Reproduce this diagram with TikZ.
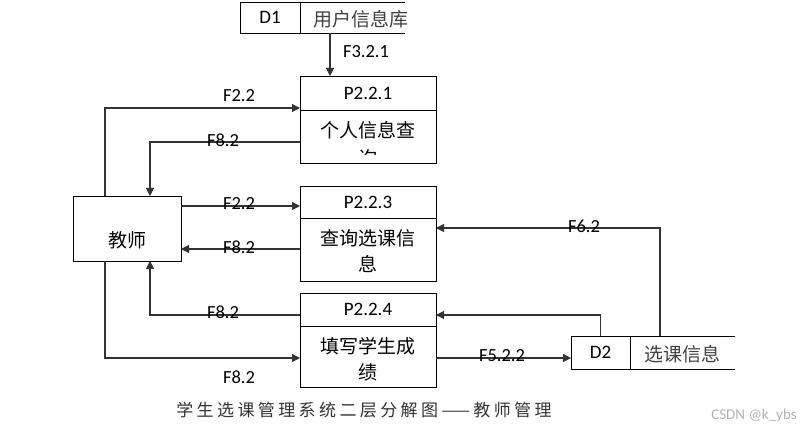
\documentclass[tikz,border=0pt]{standalone}
\usepackage{fontspec}
\setmainfont{Carlito}
\newfontfamily\cjk{Noto Sans CJK SC}
\newfontfamily\capfont[LetterSpace=20]{Noto Sans CJK SC}
\usetikzlibrary{arrows.meta}
\begin{document}
\begin{tikzpicture}[x=1pt,y=-1pt]
\tikzstyle{flow} = [-{Triangle[length=8pt,width=8pt]}, line width=1.1pt, black!80]
\tikzstyle{box} = [draw, line width=0.8pt, inner sep=0, outer sep=0]
\tikzstyle{txt} = [inner sep=0, font=\fontsize{19}{23}\selectfont]
\tikzstyle{lab} = [inner sep=0, font=\fontsize{18.5}{22}\selectfont]
\useasboundingbox (0,0) rectangle (811,430);
    % stores
    \node [box, minimum width=60, minimum height=31, txt] (d1) at (270,17.5) {D1};
    \draw [line width=0.8pt] (d1.north east) -- ++(105,0);
    \draw [line width=0.8pt] (d1.south east) -- ++(105,0);
    \node [txt, text=black!75] (d1n) at (361,19) {\cjk 用户信息库};
    \node [box, minimum width=59, minimum height=33, txt] (d2) at (600.5,352.5) {D2};
    \draw [line width=0.8pt] (d2.north east) -- ++(105,0);
    \draw [line width=0.8pt] (d2.south east) -- ++(105,0);
    \node [txt, text=black!75] (d2n) at (682,354) {\cjk 选课信息};
    % processes
    \node [box, minimum width=136, minimum height=87] (p1) at (368,119.5) {};
    \draw [line width=0.8pt] (p1.west |- 0,110) -- (p1.east |- 0,110);
    \node [txt] (p1t) at (368,93) {P2.2.1};
    \node [txt] (p1n) at (368,130) {\cjk 个人信息查};
    \begin{scope}
    \clip (p1.north west) rectangle (p1.east |- 0,155);
    \node [txt] (p1m) at (368,158) {\cjk 询};
    \end{scope}
    \node [box, minimum width=136, minimum height=95] (p3) at (368,233.5) {};
    \draw [line width=0.8pt] (p3.west |- 0,218) -- (p3.east |- 0,218);
    \node [txt] (p3t) at (368,202) {P2.2.3};
    \node [txt] (p3n) at (368,238) {\cjk 查询选课信};
    \node [txt] (p3m) at (368,264) {\cjk 息};
    \node [box, minimum width=136, minimum height=94] (p4) at (368,340) {};
    \draw [line width=0.8pt] (p4.west |- 0,326) -- (p4.east |- 0,326);
    \node [txt] (p4t) at (368,309.5) {P2.2.4};
    \node [txt] (p4n) at (368,346) {\cjk 填写学生成};
    \node [txt] (p4m) at (368,372) {\cjk 绩};
    % teacher
    \node [box, minimum width=108, minimum height=65] (js) at (127,228.5) {};
    \node [txt] (jst) at (127,240) {\cjk 教师};
    % flows
    \draw [flow] (d1.south -| 330,0) -- (p1.north -| 330,0);
    \draw [flow] (js.north -| 105,0) |- (p1.west |- 0,108);
    \draw [flow] (p1.west |- 0,142) -| (js.north -| 150,0);
    \draw [flow] (js.east |- 0,206) -- (p3.west |- 0,206);
    \draw [flow] (p3.west |- 0,249) -- (js.east |- 0,249);
    \draw [flow] (p4.west |- 0,315) -| (js.south -| 150,0);
    \draw [flow] (js.south -| 105,0) |- (p4.west |- 0,358);
    \draw [flow] (d2.north -| 660,0) |- (p3.east |- 0,228);
    \draw [flow] (d2.north) |- (p4.east |- 0,315);
    \draw [flow] (p4.east |- 0,358) -- (d2.west |- 0,358);
    % labels
    \node [lab] (f1) at (366,52) {F3.2.1};
    \node [lab] (f2) at (239,96) {F2.2};
    \node [lab] (f3) at (223,140) {F8.2};
    \node [lab] (f4) at (239,204) {F2.2};
    \node [lab] (f5) at (239,247) {F8.2};
    \node [lab] (f6) at (223,312) {F8.2};
    \node [lab] (f7) at (239,377) {F8.2};
    \node [lab] (f8) at (584,226) {F6.2};
    \node [lab] (f9) at (502,356) {F5.2.2};
    % caption
    \node [inner sep=0, text=black!80, font=\capfont\fontsize{17}{20}\selectfont] (cap) at (364,410) {学生选课管理系统二层分解图——教师管理};
    \node [inner sep=0, text=black!30, font=\fontsize{15}{18}\selectfont] (wm) at (754,415) {CSDN @k\_ybs};
\end{tikzpicture}
\end{document}
